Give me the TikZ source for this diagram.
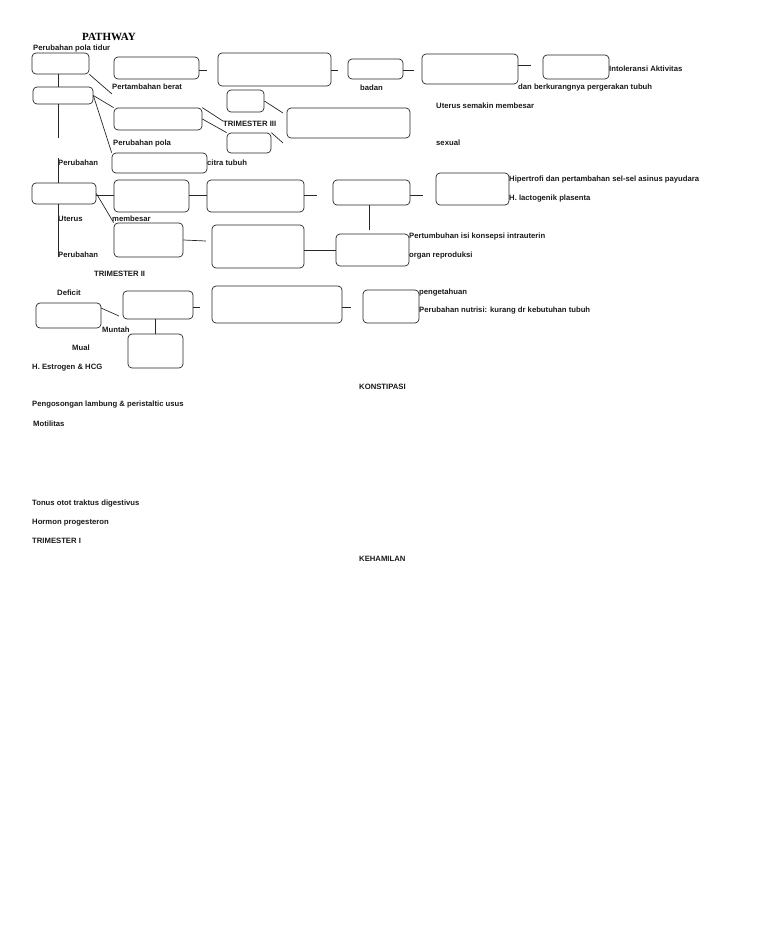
\documentclass[tikz,border=0pt]{standalone}
\usepackage{fontspec}
\setmainfont{Liberation Sans}
\newfontfamily\titlefont{Liberation Serif}
\usetikzlibrary{positioning, calc}
\tikzset{
  pbox/.style={rectangle, rounded corners=4pt, draw=black!85, line width=0.7pt, inner sep=0pt},
  lbl/.style={anchor=west, inner sep=0pt, text=black!90, font=\bfseries\fontsize{7.7}{9}\selectfont},
  link/.style={draw=black!85, line width=0.7pt}
}

\begin{document}
\begin{tikzpicture}[x=1pt, y=-1pt]
  \useasboundingbox (0,0) rectangle (768,932);

  % Boxes
  \foreach \n/\xa/\ya/\xb/\yb in {bA/32/53/89/74, bB/33/87/93/104, bC/114/57/199/79, bD/218/53/331/86,
      bE/348/59/403/79, bF/422/54/518/84, bG/543/55/609/79, bH/114/108/202/130, bI/112/153/207/173,
      bJ/227/90/264/112, bK/227/133/271/153, bL/287/108/410/138, bM/32/183/96/204, bN/114/180/189/212,
      bO/207/180/304/212, bP/333/180/410/205, bQ/436/173/509/205, bR/336/234/409/266, bS/212/225/304/268,
      bT/114/223/183/257, bU/36/303/101/328, bV/123/291/193/319, bW/128/334/183/368, bX/212/286/342/323,
      bY/363/290/419/323} {
    \node[pbox, minimum width={(\xb-\xa)*1pt}, minimum height={(\yb-\ya)*1pt}] (\n) at ({(\xa+\xb)/2},{(\ya+\yb)/2}) {};
  }

  % Labels
  \node[anchor=west, inner sep=0pt, font=\titlefont\bfseries\fontsize{11}{13}\selectfont] (title) at (82,37) {PATHWAY};
  \node[lbl] (tri3) at (223,124) {TRIMESTER III};
  \foreach \x/\y/\txt [count=\k] in {33/49/{Perubahan pola tidur}, 112/87/{Pertambahan berat}, 360/88/{badan},
      518/88/{dan berkurangnya pergerakan tubuh}, 609/69/{Intoleransi Aktivitas}, 436/106/{Uterus semakin membesar},
      113/144/{Perubahan pola}, 436/143/{sexual}, 58/163/{Perubahan}, 207/163/{citra tubuh},
      509/180/{Hipertrofi dan pertambahan sel-sel asinus payudara}, 509/199/{H. lactogenik plasenta},
      58/219/{Uterus}, 112/219/{membesar}, 409/237/{Pertumbuhan isi konsepsi intrauterin}, 58/255/{Perubahan},
      409/256/{organ reproduksi}, 94/274/{TRIMESTER II}, 57/293/{Deficit}, 419/293/{pengetahuan},
      419/311/{Perubahan nutrisi: kurang dr kebutuhan tubuh}, 102/330/{Muntah}, 72/348/{Mual},
      32/368/{H. Estrogen \& HCG}, 359/387/{KONSTIPASI}, 32/405/{Pengosongan lambung \& peristaltic usus},
      33/424/{Motilitas}, 32/504/{Tonus otot traktus digestivus}, 32/523/{Hormon progesteron},
      32/541/{TRIMESTER I}, 359/559/{KEHAMILAN}} {
    \node[lbl] (txt\k) at (\x,\y) {\txt};
  }

  % Free ends
  \coordinate (spine) at (58,0);
  \coordinate (endB) at (58,138);
  \coordinate (startM) at (58,158);
  \coordinate (endM) at (58,257);
  \coordinate (endA) at (112,94);
  \coordinate (endC) at (207,70);
  \coordinate (endD) at (338,70);
  \coordinate (endE) at (414,70);
  \coordinate (endF) at (531,65);
  \coordinate (endJ) at (283,113);
  \coordinate (endK) at (283,143);
  \coordinate (endO) at (317,195);
  \coordinate (endP) at (423,195);
  \coordinate (downP) at (369,230);
  \coordinate (endT) at (206,241);
  \coordinate (startU) at (101,308);
  \coordinate (endU) at (119,316);
  \coordinate (endV) at (200,307);
  \coordinate (endX) at (351,307);

  % Trimester III
  \draw[link] (bA.south -| spine) -- (bB.north -| spine);
  \draw[link] (bB.south -| spine) -- (endB);
  \draw[link] (bA.south east) -- (endA);
  \draw[link] (bB.east) -- (bH.north west);
  \draw[link] (bB.east) -- (bI.north west);
  \draw[link] (bH.north east) -- (tri3.north west);
  \draw[link] (bH.east) -- (bK.north west);
  \draw[link] (bJ.east) -- (endJ);
  \draw[link] (bK.north east) -- (endK);
  \draw[link] (bC.east |- endC) -- (endC);
  \draw[link] (bD.east |- endD) -- (endD);
  \draw[link] (bE.east |- endE) -- (endE);
  \draw[link] (bF.east |- endF) -- (endF);

  % Trimester II
  \draw[link] (startM) -- (bM.north -| spine);
  \draw[link] (bM.south -| spine) -- (endM);
  \draw[link] (bM.east |- endO) -- (bN.west |- endO);
  \draw[link] (bM.east) -- (bT.north west);
  \draw[link] (bN.east |- endO) -- (bO.west |- endO);
  \draw[link] (bO.east |- endO) -- (endO);
  \draw[link] (bP.east |- endP) -- (endP);
  \draw[link] (bP.south -| downP) -- (downP);
  \draw[link] (bR.west -| bS.east) -- (bR.west);
  \draw[link] (bT.east) -- (endT);

  % Trimester I
  \draw[link] (startU) -- (endU);
  \draw[link] (bV.south -| bW.north) -- (bW.north);
  \draw[link] (bV.east |- endV) -- (endV);
  \draw[link] (bX.east |- endX) -- (endX);
\end{tikzpicture}
\end{document}
